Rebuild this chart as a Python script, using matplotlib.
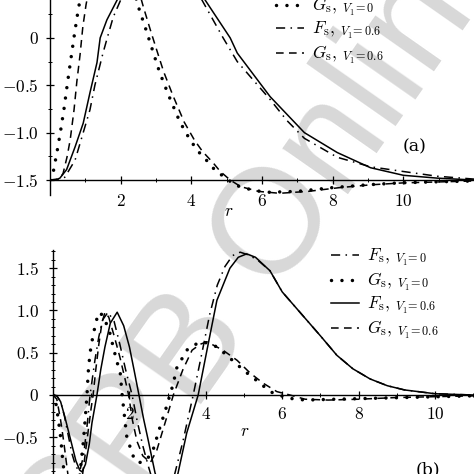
import matplotlib
matplotlib.use("Agg")
import matplotlib.pyplot as plt
from matplotlib.ticker import FixedLocator, MultipleLocator

plt.rcParams["mathtext.fontset"] = "cm"
plt.rcParams["font.family"] = "serif"
plt.rcParams["font.serif"] = ["DejaVu Serif"]

# -------------------------
# Panel (a) data (r, value)
# -------------------------
a_F0_r = [0, 0.15, 0.28, 0.47, 0.71, 0.94, 1.13, 1.33, 1.42, 1.61, 1.9, 2.4, 3.0, 3.7,
          4.39, 5.1, 5.3, 6.23, 7.2, 8.13, 9.07, 10.0, 10.96, 12.0]
a_F0_v = [-1.5, -1.5, -1.48, -1.39, -1.15, -0.9, -0.58, -0.26, 0.0, 0.19, 0.4, 0.8, 0.95, 0.8,
          0.4, 0.0, -0.16, -0.62, -1.0, -1.21, -1.37, -1.45, -1.48, -1.5]

a_F6_r = [0, 0.25, 0.42, 0.71, 0.94, 1.13, 1.27, 1.5, 1.62, 1.79, 2.0, 2.5, 3.1, 3.7,
          4.3, 4.9, 5.3, 6.23, 6.7, 7.2, 8.13, 9.07, 10.0, 10.96, 12.0]
a_F6_v = [-1.5, -1.5, -1.47, -1.29, -1.0, -0.76, -0.5, -0.16, 0.0, 0.22, 0.4, 0.8, 0.95, 0.8,
          0.4, 0.0, -0.25, -0.65, -0.87, -1.06, -1.26, -1.36, -1.41, -1.46, -1.49]

a_G0_r = [0, 0.1, 0.2, 0.3, 0.4, 0.5, 0.6, 0.7, 0.8, 0.9, 1.2, 1.6, 2.0, 2.3, 2.5, 2.74,
          2.97, 3.1, 3.35, 3.68, 3.97, 4.2, 4.5, 4.7, 5.0, 5.2, 5.67, 6.1, 7.0, 8.0, 9.0,
          9.9, 10.8, 12.0]
a_G0_v = [-1.5, -1.4, -1.2, -0.98, -0.74, -0.46, -0.2, 0.06, 0.3, 0.5, 0.95, 1.1, 0.95, 0.6,
          0.33, 0.06, -0.21, -0.36, -0.6, -0.89, -1.08, -1.2, -1.32, -1.41, -1.48, -1.55,
          -1.6, -1.63, -1.62, -1.58, -1.55, -1.53, -1.52, -1.51]

a_G6_r = [0, 0.2, 0.3, 0.37, 0.48, 0.57, 0.68, 0.76, 0.85, 0.93, 1.02, 1.3, 1.7, 2.1, 2.4,
          2.64, 2.86, 3.09, 3.22, 3.47, 3.8, 4.09, 4.32, 4.62, 4.82, 5.1, 5.4, 5.9, 6.5,
          7.3, 8.2, 9.1, 10.0, 11.0, 12.0]
a_G6_v = [-1.5, -1.49, -1.47, -1.43, -1.26, -1.08, -0.76, -0.46, -0.18, 0.12, 0.35, 0.9,
          1.1, 0.95, 0.65, 0.33, 0.06, -0.21, -0.36, -0.6, -0.89, -1.08, -1.2, -1.32,
          -1.41, -1.5, -1.57, -1.62, -1.64, -1.62, -1.58, -1.55, -1.53, -1.52, -1.51]

# -------------------------
# Panel (b) data (r, value)
# -------------------------
b_F0_r = [0, 0.1, 0.2, 0.3, 0.4, 0.5, 0.6, 0.7, 0.8, 0.9, 0.97, 1.1, 1.2, 1.3, 1.44, 1.6,
          1.75, 1.9, 2.07, 2.2, 2.35, 2.5, 2.6, 2.87, 3.15, 3.4, 3.67, 3.9, 4.1, 4.3, 4.5,
          4.7, 4.9, 5.1, 5.35, 5.68, 6.0, 6.5, 7.0, 7.43, 7.85, 8.3, 8.75, 9.2, 10.0, 11.0]
b_F0_v = [0, -0.01, -0.08, -0.25, -0.48, -0.7, -0.85, -0.9, -0.72, -0.33, 0.0, 0.42, 0.69,
          0.89, 0.98, 0.87, 0.6, 0.3, 0.0, -0.3, -0.6, -0.85, -1.0, -1.25, -1.0, -0.55, 0.0,
          0.5, 0.95, 1.3, 1.52, 1.65, 1.69, 1.66, 1.6, 1.47, 1.22, 0.96, 0.7, 0.47, 0.31,
          0.19, 0.11, 0.06, 0.015, 0.0]

b_F6_r = [0, 0.1, 0.2, 0.31, 0.4, 0.5, 0.6, 0.7, 0.76, 0.85, 0.95, 1.02, 1.15, 1.25, 1.36,
          1.5, 1.68, 1.85, 2.0, 2.12, 2.25, 2.37, 2.49, 2.67, 2.95, 3.27, 3.5, 3.8, 4.03,
          4.29, 4.63, 4.85, 5.07, 5.3, 5.68, 6.0, 6.5, 7.0, 7.43, 7.85, 8.3, 8.75, 9.2,
          10.0, 11.0]
b_F6_v = [0, -0.01, -0.08, -0.26, -0.42, -0.6, -0.78, -0.89, -0.91, -0.82, -0.58, -0.33,
          0.0, 0.3, 0.57, 0.85, 0.98, 0.82, 0.57, 0.3, 0.0, -0.28, -0.53, -0.92, -1.3, -0.93,
          -0.45, 0.0, 0.53, 1.12, 1.5, 1.63, 1.67, 1.63, 1.47, 1.22, 0.96, 0.7, 0.47, 0.31,
          0.19, 0.11, 0.06, 0.015, 0.0]

b_G0_r = [0, 0.05, 0.13, 0.2, 0.25, 0.3, 0.4, 0.5, 0.6, 0.7, 0.79, 0.84, 0.89, 0.92, 0.97,
          1.05, 1.14, 1.23, 1.35, 1.49, 1.58, 1.67, 1.76, 1.81, 1.89, 1.93, 2.07, 2.15, 2.3,
          2.45, 2.62, 2.8, 2.93, 3.06, 3.14, 3.24, 3.5, 3.67, 3.93, 4.29, 4.55, 4.82, 5.08,
          5.42, 5.68, 5.9, 6.2, 6.6, 7.4, 8.3, 9.2, 10.1, 11.0]
b_G0_v = [0, -0.02, -0.26, -0.5, -0.75, -0.95, -1.3, -1.45, -1.3, -0.95, -0.57, -0.3, 0.0,
          0.26, 0.5, 0.71, 0.89, 0.98, 0.9, 0.73, 0.56, 0.4, 0.26, 0.0, -0.33, -0.49, -0.69,
          -0.78, -0.8, -0.77, -0.65, -0.38, -0.2, 0.0, 0.12, 0.32, 0.53, 0.59, 0.63, 0.57,
          0.47, 0.36, 0.26, 0.14, 0.04, 0.0, -0.04, -0.06, -0.05, -0.04, -0.03, -0.02, -0.01]

b_G6_r = [0, 0.1, 0.2, 0.28, 0.35, 0.45, 0.58, 0.7, 0.8, 0.9, 1.0, 1.05, 1.12, 1.2, 1.28,
          1.36, 1.46, 1.6, 1.75, 1.88, 1.98, 2.08, 2.2, 2.35, 2.55, 2.72, 2.98, 3.15, 3.4,
          3.64, 3.85, 4.03, 4.45, 4.82, 5.16, 5.5, 5.86, 6.2, 6.6, 7.2, 8.0, 9.0, 10.0, 11.0]
b_G6_v = [0, -0.05, -0.3, -0.55, -0.8, -1.15, -1.35, -1.2, -0.85, -0.5, -0.15, 0.0, 0.3,
          0.6, 0.85, 0.98, 0.92, 0.7, 0.45, 0.2, 0.0, -0.3, -0.55, -0.72, -0.8, -0.65,
          -0.26, 0.0, 0.3, 0.53, 0.6, 0.63, 0.53, 0.41, 0.26, 0.14, 0.04, 0.0, -0.05, -0.06,
          -0.05, -0.03, -0.02, -0.01]

# ticks
a_xticks = [2, 4, 6, 8, 10]
a_yticks = [-1.5, -1.0, -0.5, 0]
a_yticklabels = ["$-1.5$", "$-1.0$", "$-0.5$", "$0$"]
b_xticks = [2, 4, 6, 8, 10]
b_yticks = [-0.5, 0, 0.5, 1.0, 1.5]
b_yticklabels = ["$-0.5$", "$0$", "$0.5$", "$1.0$", "$1.5$"]

lab_F0 = r"$F_{\rm s},\,{}_{V_1\!=0}$"
lab_G0 = r"$G_{\rm s},\,{}_{V_1\!=0}$"
lab_F6 = r"$F_{\rm s},\,{}_{V_1\!=0.6}$"
lab_G6 = r"$G_{\rm s},\,{}_{V_1\!=0.6}$"

SOLID = dict(color="black", lw=1.1, ls="-")
DASHDOT = dict(color="black", lw=1.1, ls=(0, (6, 3.5, 1, 3.5)))
DASHED = dict(color="black", lw=1.1, ls=(0, (5, 3.5)))
DOTS = dict(color="black", lw=2.5, ls=(0, (0.01, 3.0)), dash_capstyle="round")

W = 474
fig = plt.figure(figsize=(4.74, 4.74), dpi=100)

# watermark
fig.text(0.565, 0.49, "CPB Online", rotation=55, fontsize=108, color="#d8d8d8",
         ha="center", va="center", zorder=-5, family="Liberation Sans")


def style_axis(ax):
    for s in ["top", "right"]:
        ax.spines[s].set_visible(False)
    ax.spines["left"].set_position(("data", 0))
    ax.spines["left"].set_linewidth(1.0)
    ax.spines["bottom"].set_linewidth(1.0)
    ax.patch.set_alpha(0)
    ax.tick_params(which="major", direction="inout", length=6, width=0.9,
                   labelsize=12.5, pad=4)
    ax.tick_params(which="minor", direction="inout", length=3, width=0.7)
    ax.xaxis.set_minor_locator(MultipleLocator(1))


# -------------------------
# Panel (a)
# -------------------------
ax1 = fig.add_axes([50 / W, 1 - 195 / W, 1 - 50 / W, 195 / W])
ax1.plot(a_F0_r, a_F0_v, label=lab_F0, **SOLID)
ax1.plot(a_G0_r, a_G0_v, label=lab_G0, **DOTS)
ax1.plot(a_F6_r, a_F6_v, label=lab_F6, **DASHDOT)
ax1.plot(a_G6_r, a_G6_v, label=lab_G6, **DASHED)
ax1.set_xlim(0, 12.0)
ax1.set_ylim(-1.658, 0.40)
style_axis(ax1)
ax1.spines["bottom"].set_position(("data", -1.5))
ax1.xaxis.set_major_locator(FixedLocator(a_xticks))
ax1.set_xticklabels([f"${t}$" for t in a_xticks])
ax1.yaxis.set_major_locator(FixedLocator(a_yticks))
ax1.set_yticklabels(a_yticklabels)
ax1.yaxis.set_minor_locator(MultipleLocator(0.25))
ax1.tick_params(axis="x", pad=6)
ax1.tick_params(axis="y", pad=5)
ax1.legend(loc="upper left", bbox_to_anchor=(276 / W, 1 + 28 / W),
           bbox_transform=fig.transFigure, frameon=False, fontsize=12.5,
           handlelength=1.6, handletextpad=0.5, labelspacing=0.15,
           borderpad=0, borderaxespad=0)
fig.text(229 / W, 1 - 212 / W, "$r$", fontsize=12.5, ha="center", va="center")
fig.text(415 / W, 1 - 147 / W, "(a)", fontsize=12.5, ha="center", va="center",
         family="DejaVu Serif")

# -------------------------
# Panel (b)
# -------------------------
ax2 = fig.add_axes([53 / W, 0, 1 - 53 / W, 224 / W])
ax2.plot(b_F0_r, b_F0_v, label=lab_F0, **DASHDOT)
ax2.plot(b_G0_r, b_G0_v, label=lab_G0, **DOTS)
ax2.plot(b_F6_r, b_F6_v, label=lab_F6, **SOLID)
ax2.plot(b_G6_r, b_G6_v, label=lab_G6, **DASHED)
ax2.set_xlim(0, 11.02)
ax2.set_ylim(-0.935, 1.716)
style_axis(ax2)
ax2.spines["bottom"].set_position(("data", 0))
ax2.xaxis.set_major_locator(FixedLocator(b_xticks))
ax2.set_xticklabels([f"${t}$" for t in b_xticks])
ax2.yaxis.set_major_locator(FixedLocator(b_yticks))
ax2.set_yticklabels(b_yticklabels)
ax2.yaxis.set_minor_locator(MultipleLocator(0.1))
ax2.tick_params(axis="x", pad=5)
ax2.tick_params(axis="y", pad=7)
ax2.legend(loc="upper left", bbox_to_anchor=(331 / W, 1 - 247 / W),
           bbox_transform=fig.transFigure, frameon=False, fontsize=12.5,
           handlelength=1.6, handletextpad=0.5, labelspacing=0.15,
           borderpad=0, borderaxespad=0)
fig.text(245 / W, 1 - 432 / W, "$r$", fontsize=12.5, ha="center", va="center")
fig.text(428 / W, 1 - 470 / W, "(b)", fontsize=12.5, ha="center", va="center",
         family="DejaVu Serif")

fig.savefig("out.png", dpi=100)
